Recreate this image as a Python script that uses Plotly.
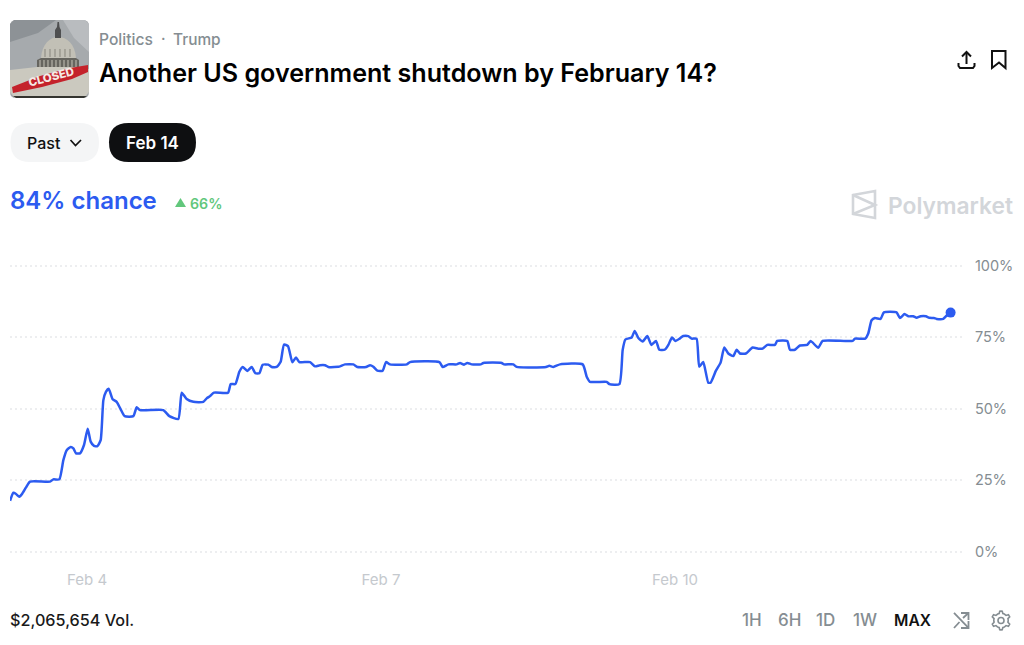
import numpy as np
import pandas as pd
import plotly.graph_objects as go

# hours counted from Feb 3 00:00
hours = [5.14, 5.96, 6.61, 7.42, 8.08, 9.06, 10.04, 14.93, 15.75, 17.22, 18.2, 19.02, 20.0, 20.65, 21.3, 22.28,
         23.26, 24.16, 24.89, 25.71, 26.53, 27.34, 28.0, 28.65, 29.3, 30.28, 31.26, 32.24, 33.22, 35.34, 36.16,
         36.97, 42.69, 44.16, 46.36, 47.18, 48.4, 50.04, 52.48, 53.3, 54.12, 55.1, 58.53, 59.18, 60.32, 61.3,
         62.12, 63.26, 64.32, 65.22, 66.2, 67.02, 68.4, 69.22, 70.45, 71.42, 72.24, 73.22, 74.28, 75.18, 76.0,
         78.61, 79.83, 81.05, 82.28, 83.1, 85.55,
         85.96, 87.18, 89.22, 90.2, 92.33, 93.31, 94.12, 95.1, 96.41, 97.22, 98.2, 102.29, 103.1, 110.29, 111.1,
         112.49, 114.53, 115.35, 116.33, 117.14, 118.2, 120.41, 121.06, 125.55, 126.12, 128.41, 129.22, 136.41,
         137.22, 138.2, 139.84, 145.39, 146.37, 147.18, 151.26, 151.92, 154.37, 155.18, 155.84, 157.39, 158.12,
         159.02, 160.08, 161.22, 162.2, 163.34, 164.16, 165.55, 166.37, 167.26, 168.08, 169.22,
         170.02, 171.24, 172.06, 173.28, 173.93, 174.91, 176.14, 176.71, 178.02, 179.16, 180.06, 181.04, 182.26,
         183.08, 183.89, 185.36, 187.0, 188.38, 189.44, 190.59, 192.46, 193.04, 195.49, 196.14, 197.36, 198.59,
         200.38, 201.2, 203.08, 204.14, 211.49, 212.06, 214.59, 215.32, 216.14, 216.95, 218.34, 219.16, 222.26,
         223.08, 224.22, 225.12, 226.34, 227.16, 228.14, 229.44, 230.26, 231.4, 232.06, 233.69, 234.5, 235.49]

chance = [17.8, 20.6, 20.2, 19.2, 20.2, 22.5, 24.5, 24.5, 25.3, 25.3, 32, 35.5, 36.6, 36.1, 34.4, 34.4,
          37.3, 43, 38.5, 37, 36.9, 39, 53, 56, 57, 53.3, 52.4, 49.8, 47.4, 47.4, 50.5,
          49.5, 49.5, 47.4, 46.4, 55.6, 53.4, 52.4, 52.4, 53.6, 54.4, 55.6, 55.6, 58.6, 58.6, 62.9,
          64.6, 63.2, 64.6, 62.4, 62.4, 65.4, 65.4, 64.6, 64.6, 66.4, 72.4, 71.9, 66.2, 67.9, 66.3,
          66.3, 64.8, 65.2, 65.2, 64.6, 64.7,
          64.8, 65.5, 65.5, 64.6, 64.6, 65.2, 64.7, 63.3, 63.3, 66.3, 65.5, 65.5, 66.3, 66.3, 64.6,
          65.5, 65.5, 66, 65.4, 66, 65.5, 65.5, 66, 66, 65.5, 65.5, 64.6, 64.6,
          65, 64.6, 65.5, 65.5, 61.2, 59.4, 59.4, 58.6, 58.6, 70.5, 74.2, 74.9, 77.2,
          74.7, 73.5, 75.4, 72.3, 73.7, 70.6, 70.7, 72.3, 74.9, 73.7, 74.6,
          75.4, 75.4, 74.5, 74.5, 64.7, 66.3, 59.1, 59.1, 63.3, 66.1, 71.4, 69.3, 68.4,
          70.6, 69.3, 69.3, 71.4, 71, 71, 72.3, 72.3, 73.7, 73.7, 70.6, 70.6, 72.1,
          72.3, 73.7, 71.3, 73.7, 73.7, 74.5, 74.5, 76.3, 80.9, 81.7, 81.4, 83.7, 83.7,
          81.7, 83.1, 82.3, 82.3, 81.8, 82.3, 82.3, 81.8, 81.7, 81.4, 81.4, 82.5, 83.6]

y_ticks = [0, 25, 50, 75, 100]
y_labels = ['0%', '25%', '50%', '75%', '100%']
x_ticks = ['2026-02-04', '2026-02-07', '2026-02-10']
x_labels = ['Feb 4', 'Feb 7', 'Feb 10']
range_labels = ['1H', '6H', '1D', '1W', 'MAX']

BLUE = '#2C5BF0'
GREY = '#858D92'
FONT = 'Inter'

times = pd.Timestamp('2026-02-03') + pd.to_timedelta(hours, unit='h')

# the page body has an 8px margin, so the figure sits at (8, 8)
OFF = 8
W, H = 1024 - OFF, 645 - OFF
def px(x):
    return (x - OFF) / W
def py(y):
    return 1 - (y - OFF) / H

def poly(pts, close=False):
    s = 'M ' + ' L '.join(f'{px(x):.5f},{py(y):.5f}' for x, y in pts)
    return s + (' Z' if close else '')

def rounded(x0, y0, x1, y1, r):
    return (f'M {px(x0 + r)},{py(y0)} L {px(x1 - r)},{py(y0)} Q {px(x1)},{py(y0)} {px(x1)},{py(y0 + r)} '
            f'L {px(x1)},{py(y1 - r)} Q {px(x1)},{py(y1)} {px(x1 - r)},{py(y1)} '
            f'L {px(x0 + r)},{py(y1)} Q {px(x0)},{py(y1)} {px(x0)},{py(y1 - r)} '
            f'L {px(x0)},{py(y0 + r)} Q {px(x0)},{py(y0)} {px(x0 + r)},{py(y0)} Z')

shapes = []
def fill(path, color):
    shapes.append(dict(type='path', xref='paper', yref='paper', path=path, fillcolor=color, line=dict(width=0)))
def stroke(path, color, width=2):
    shapes.append(dict(type='path', xref='paper', yref='paper', path=path, line=dict(color=color, width=width)))

annotations = []
def label(x, y, text, size, color, weight=400, anchor='left', angle=0):
    # annotations keep about 2px of padding around their text
    x0 = x - 2 if anchor == 'left' else x
    annotations.append(dict(xref='paper', yref='paper', x=px(x0), y=py(y), text=text, showarrow=False,
                            xanchor=anchor, yanchor='middle', textangle=angle,
                            font=dict(family=FONT, size=size, color=color, weight=weight)))

# thumbnail, a rough capitol with the red banner
fill(rounded(10, 20, 89, 98, 6), '#A6AAAD')
fill(poly([(14, 20), (56, 20), (38, 33), (10, 42), (10, 24)], True), '#8D9296')
fill(poly([(63, 20), (85, 20), (89, 24), (89, 52), (74, 38)], True), '#B9BCBF')
fill(poly([(10, 70), (37, 67), (79, 67), (89, 69), (89, 92), (84, 98), (15, 98), (10, 92)], True), '#CBC9BF')
fill(poly([(37, 67), (37, 60), (41, 58), (76, 58), (79, 60), (79, 67)], True), '#66655F')
for cx in range(40, 78, 4):
    stroke(poly([(cx, 60), (cx, 67)]), '#C4C2B8', 1)
fill(f'M {px(41)},{py(58)} C {px(42)},{py(44)} {px(50)},{py(37)} {px(58)},{py(37)} '
     f'C {px(67)},{py(37)} {px(75)},{py(44)} {px(76)},{py(58)} Z', '#C2C0B6')
for cx in range(45, 75, 5):
    stroke(poly([(cx, 49), (cx, 57)]), '#88867E', 1)
fill(poly([(55, 38), (55, 30), (57, 27), (57.5, 22), (59, 22), (59.5, 27), (61, 30), (61, 38)], True), '#4E4F50')
fill(poly([(16, 98), (84, 98), (87, 96), (13, 96)], True), '#34342F')
fill(poly([(12, 87), (40, 76), (70, 68), (88, 65), (88, 72), (72, 79), (42, 87), (13, 93)], True), '#C4222B')
label(51, 77, 'CLOSED', 11.5, '#F4E9E6', 800, 'center', -15)

label(99, 40, 'Politics', 15.6, GREY, 500)
label(161, 39, '·', 15, GREY, 500)
label(173, 40, 'Trump', 15.4, GREY, 500)
label(99, 73, 'Another US government shutdown by February 14?', 25.1, '#000000', 600)

# share and bookmark icons
stroke(poly([(966.5, 64), (966.5, 52)]), '#111111')
stroke(poly([(962, 56.5), (966.5, 52), (971, 56.5)]), '#111111')
stroke(poly([(958.5, 63), (958.5, 66), (960, 68), (973, 68), (974.5, 66), (974.5, 63)]), '#111111')
stroke(poly([(992, 51), (1005.5, 51), (1005.5, 68), (999, 62.5), (992, 68)], True), '#111111')

# outcome pills
fill(rounded(10.5, 123, 99, 162, 19.5), '#F4F5F6')
fill(rounded(109, 123, 196, 162, 19.5), '#0E0F11')
label(27, 142.5, 'Past', 16, '#111111', 500)
stroke(poly([(70.5, 140), (75.5, 145.5), (81, 140)]), '#111111', 1.7)
label(152.5, 142.5, 'Feb 14', 17, '#FFFFFF', 600, 'center')

label(10, 200.5, '84% chance', 24, BLUE, 600)
fill(poly([(175, 207), (180.5, 198), (186, 207)], True), '#62C77C')
label(189.5, 203, '66%', 14.2, '#62C77C', 600)

# watermark
stroke(poly([(853, 195), (875, 191), (875, 218), (853, 214)], True), '#D3D6DA', 2.6)
stroke(poly([(853, 195), (875, 205), (853, 214)]), '#D3D6DA', 2.6)
label(888, 205, 'Polymarket', 22.8, '#D3D6DA', 600)

# footer
label(10, 620, '$2,065,654 Vol.', 16.2, '#1A1A1A', 500)
for name, xc in zip(range_labels, [752, 789, 825, 865, 912]):
    if name == 'MAX':
        label(xc, 620, name, 15.6, '#111111', 600, 'center')
    else:
        label(xc, 620, name, 17, GREY, 500, 'center')

# shuffle icon
stroke(poly([(954, 613), (968.5, 628)]), GREY, 1.8)
stroke(poly([(954, 628), (959.5, 622)]), GREY, 1.8)
stroke(poly([(963, 618), (968.5, 613)]), GREY, 1.8)
stroke(poly([(961, 613), (968.5, 613), (968.5, 620)]), GREY, 1.8)
stroke(poly([(968.5, 621), (968.5, 628), (961, 628)]), GREY, 1.8)

# gear icon
ang = np.linspace(0, 2 * np.pi, 49)[:-1]
rad = [9.4 if (i % 8) in (0, 1, 7) else 7.2 for i in range(48)]
stroke(poly([(1001 + r * np.sin(a), 620.5 - r * np.cos(a)) for r, a in zip(rad, ang)], True), GREY, 1.6)
shapes.append(dict(type='circle', xref='paper', yref='paper', x0=px(998), x1=px(1004), y0=py(623.5), y1=py(617.5),
                   line=dict(color=GREY, width=1.6)))

fig = go.Figure()
fig.add_trace(go.Scatter(x=times, y=chance, mode='lines', hoverinfo='skip', showlegend=False,
                         line=dict(color=BLUE, width=2.5, shape='spline', smoothing=0.5)))
fig.add_trace(go.Scatter(x=times[-1:], y=chance[-1:], mode='markers', hoverinfo='skip', showlegend=False,
                         marker=dict(color=BLUE, size=10)))

fig.update_layout(
    width=W, height=H,
    margin=dict(l=0, r=0, t=0, b=0),
    paper_bgcolor='white',
    plot_bgcolor='white',
    font=dict(family=FONT),
    shapes=shapes,
    annotations=annotations,
    xaxis=dict(domain=[px(10), px(962)], range=['2026-02-03 05:08', '2026-02-12 22:17'],
               tickvals=x_ticks, ticktext=x_labels, showgrid=False, zeroline=False, showline=False,
               automargin=False, ticks='outside', ticklen=11, tickcolor='rgba(0,0,0,0)',
               tickfont=dict(family=FONT, size=15, color='#C5C9CE')),
    # one extra percent each way, plotly drops gridlines lying on the range ends
    yaxis=dict(domain=[py(554.56), py(262.84)], range=[-1, 101], side='right',
               tickvals=y_ticks, ticktext=y_labels, zeroline=False, showline=False,
               gridcolor='#EDEEF0', griddash='2px,3px', gridwidth=1.5,
               automargin=False, ticks='outside', ticklen=9, tickcolor='rgba(0,0,0,0)',
               tickfont=dict(family=FONT, size=14.5, color=GREY)),
)

fig.write_html("out.html")
